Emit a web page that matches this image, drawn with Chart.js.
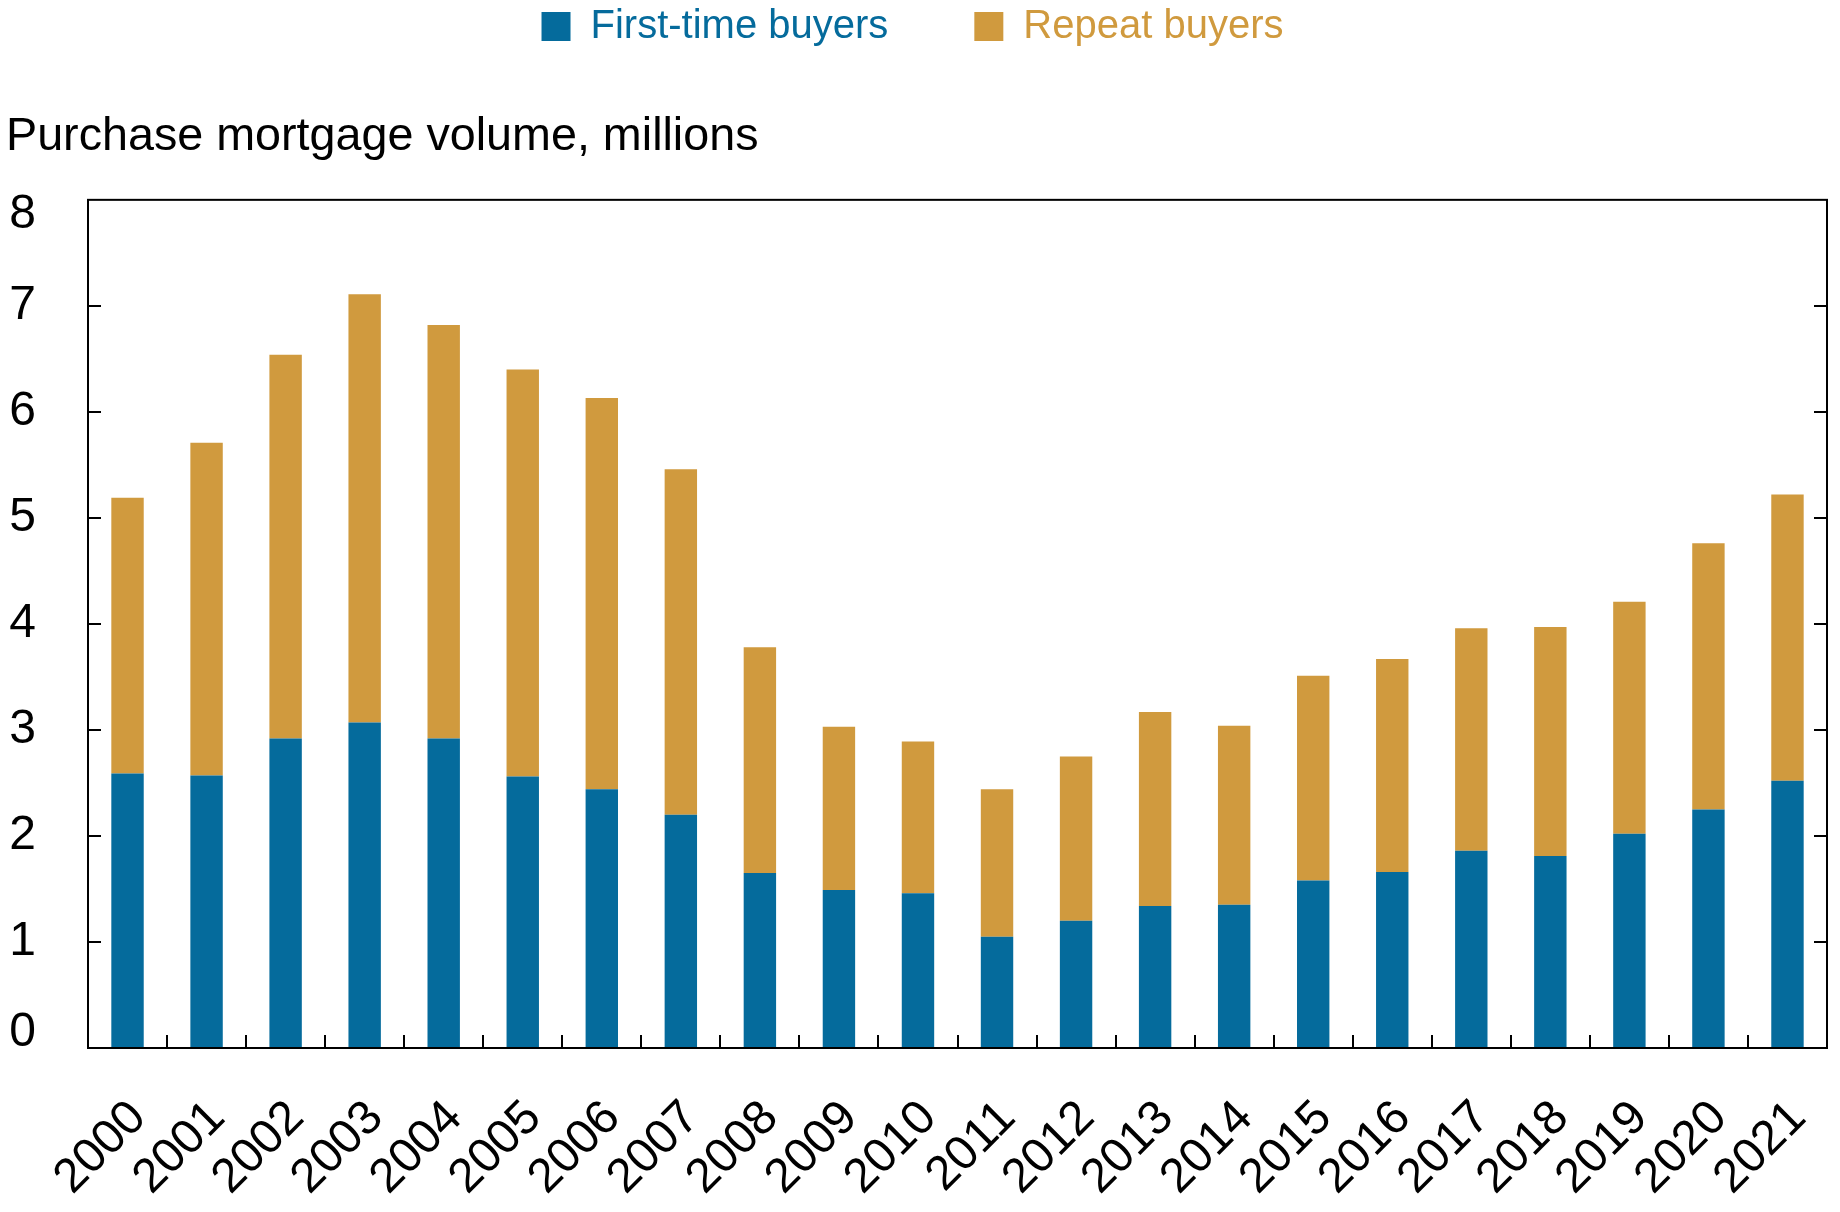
<!DOCTYPE html>
<html>
<head>
<meta charset="utf-8">
<script src="https://cdn.jsdelivr.net/npm/chart.js@4"></script>
<style>
  html, body { margin: 0; padding: 0; background: #ffffff; }
  #wrap { width: 1840px; height: 1212px; }
</style>
</head>
<body>
<div id="wrap"><canvas id="c" width="1840" height="1212"></canvas></div>
<script>
const years = ['2000','2001','2002','2003','2004','2005','2006','2007','2008','2009','2010',
               '2011','2012','2013','2014','2015','2016','2017','2018','2019','2020','2021'];
const firstTimeBuyers = [2.59, 2.57, 2.92, 3.07, 2.92, 2.56, 2.44, 2.20, 1.65, 1.49, 1.46,
                         1.05, 1.20, 1.34, 1.35, 1.58, 1.66, 1.86, 1.81, 2.02, 2.25, 2.52];
const repeatBuyers = [2.60, 3.14, 3.62, 4.04, 3.90, 3.84, 3.69, 3.26, 2.13, 1.54, 1.43,
                      1.39, 1.55, 1.83, 1.69, 1.93, 2.01, 2.10, 2.16, 2.19, 2.51, 2.70];
const yTicks = [0, 1, 2, 3, 4, 5, 6, 7, 8];
const seriesNames = ['First-time buyers', 'Repeat buyers'];
const titleText = 'Purchase mortgage volume, millions';

const BLUE = '#056B9C';
const GOLD = '#D09A3E';
const FONT = "'Liberation Sans', Arial, Helvetica, sans-serif";
const Y_MIN = yTicks[0];
const Y_MAX = yTicks[yTicks.length - 1];

const frameTicks = {
  id: 'frameTicks',
  afterLayout(chart) {
    if (chart.legend) { chart.legend.left -= 4; chart.legend.right -= 4; }
  },
  afterDatasetsDraw(chart) {
    const { ctx, chartArea: a, scales: { x, y } } = chart;
    const len = 13;
    ctx.save();
    ctx.strokeStyle = '#000';
    ctx.lineWidth = 2;
    ctx.beginPath();
    yTicks.forEach(v => {
      if (v === Y_MIN || v === Y_MAX) return;
      const py = Math.round(y.getPixelForValue(v));
      ctx.moveTo(a.left, py); ctx.lineTo(a.left + len, py);
      ctx.moveTo(a.right, py); ctx.lineTo(a.right - len, py);
    });
    for (let i = 1; i < years.length; i++) {
      const px = Math.round((x.getPixelForValue(i - 1) + x.getPixelForValue(i)) / 2);
      ctx.moveTo(px, a.bottom); ctx.lineTo(px, a.bottom - len);
    }
    ctx.stroke();
    ctx.strokeRect(a.left, a.top, a.right - a.left, a.bottom - a.top);
    ctx.restore();
  }
};

new Chart(document.getElementById('c'), {
  type: 'bar',
  data: {
    labels: years,
    datasets: [
      { label: seriesNames[0], data: firstTimeBuyers, backgroundColor: BLUE, borderWidth: 0,
        barPercentage: 0.41, categoryPercentage: 1.0 },
      { label: seriesNames[1], data: repeatBuyers, backgroundColor: GOLD, borderWidth: 0,
        barPercentage: 0.41, categoryPercentage: 1.0 }
    ]
  },
  options: {
    responsive: false,
    devicePixelRatio: 1,
    animation: false,
    layout: { padding: { top: -79.5, left: 6, right: 13, bottom: 0 } },
    plugins: {
      tooltip: { enabled: false },
      legend: {
        display: true,
        position: 'top',
        weight: 3000,
        labels: {
          boxWidth: 29,
          boxHeight: 29,
          padding: 86,
          font: { family: FONT, size: 40 },
          generateLabels(chart) {
            const items = Chart.defaults.plugins.legend.labels.generateLabels(chart);
            const cols = [BLUE, GOLD];
            items.forEach((it, i) => { it.fontColor = cols[i]; it.lineWidth = 0; it.strokeStyle = cols[i]; });
            return items;
          }
        }
      },
      title: {
        display: true,
        text: titleText,
        align: 'start',
        color: '#000',
        font: { family: FONT, size: 46.7, weight: 'normal' },
        padding: { top: 52.5, bottom: 34.8 }
      }
    },
    scales: {
      x: {
        stacked: true,
        offset: true,
        grid: { display: false },
        border: { display: false },
        ticks: {
          autoSkip: false,
          minRotation: 45,
          maxRotation: 45,
          padding: 34,
          labelOffset: 11,
          color: '#000',
          font: { family: FONT, size: 48 }
        },
        afterFit(scale) {
          scale.height = 164;
          scale.paddingLeft = 0;
          scale.paddingRight = 0;
        }
      },
      y: {
        stacked: true,
        min: Y_MIN,
        max: Y_MAX,
        grid: { display: false },
        border: { display: false },
        ticks: {
          stepSize: 1,
          padding: 44,
          color: '#000',
          callback(value) {
            const s = String(value);
            if (value === Y_MAX) return ['', s];
            if (value === Y_MIN) return [s, ''];
            return s;
          },
          font(ctx) {
            const v = ctx.tick ? ctx.tick.value : null;
            let lh = 1.2;
            if (v === Y_MAX) lh = '29px';
            else if (v === Y_MIN) lh = '30px';
            return { family: FONT, size: 48, lineHeight: lh };
          }
        },
        afterFit(scale) {
          scale.width = 82;
          scale.paddingTop = 0;
          scale.paddingBottom = 0;
        }
      }
    }
  },
  plugins: [frameTicks]
});
</script>
</body>
</html>
